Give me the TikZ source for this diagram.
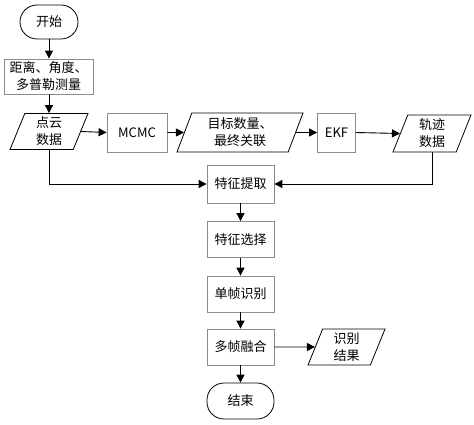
\documentclass[tikz,border=0pt]{standalone}
\usepackage{fontspec}
\setmainfont{Noto Sans CJK SC}
\usetikzlibrary{shapes.geometric,arrows.meta}
\definecolor{boxgray}{HTML}{8C8C8C}
\tikzset{
  base/.style={font=\fontsize{13pt}{17pt}\selectfont, align=center, inner sep=0pt, line width=0.8pt},
  proc/.style={base, draw=boxgray, rectangle},
  io/.style={base, draw=black, trapezium, trapezium left angle=63, trapezium right angle=117, trapezium stretches body},
  term/.style={base, draw=black, rectangle, rounded corners=17pt},
  arr/.style={line width=0.9pt, -{Triangle[length=8pt,width=8pt]}},
}
\begin{document}
\begin{tikzpicture}[x=1pt,y=-1pt]
\useasboundingbox (0,0) rectangle (474,425);
\node[term, minimum width=58pt, minimum height=34pt] (start) at (49,22) {开始};
\node[proc, minimum width=89pt, minimum height=35pt] (meas) at (48.5,76.5) {距离、角度、\\多普勒测量};
\node[io, minimum width=78pt, minimum height=36pt] (pc) at (49,131.5) {点云\\数据};
\node[proc, minimum width=60pt, minimum height=39pt] (mcmc) at (137,132.5) {MCMC};
\node[io, minimum width=126pt, minimum height=39pt] (tgt) at (240,132.5) {目标数量、\\最终关联};
\node[proc, minimum width=38pt, minimum height=39pt] (ekf) at (336.5,132.5) {EKF};
\node[io, minimum width=78pt, minimum height=37pt] (trk) at (432,133.5) {轨迹\\数据};
\node[proc, minimum width=67pt, minimum height=38pt] (fe) at (240.5,184) {特征提取};
\node[proc, minimum width=67pt, minimum height=36pt] (fs) at (240.5,239.5) {特征选择};
\node[proc, minimum width=67pt, minimum height=36pt] (sf) at (240.5,294) {单帧识别};
\node[proc, minimum width=67pt, minimum height=36pt] (mf) at (240.5,347) {多帧融合};
\node[term, minimum width=67pt, minimum height=36pt] (end) at (240.5,401) {结束};
\node[io, minimum width=77pt, minimum height=36pt] (res) at (346.5,347) {识别\\结果};
\draw[arr] (start.south) -- (start.south |- meas.north);
\draw[arr] (meas.south -| pc.south) -- (pc.north);
\draw[arr] (pc.east) -- (mcmc.west);
\draw[arr] (mcmc.east) -- (tgt.west);
\draw[arr] (tgt.east) -- (ekf.west);
\draw[arr] (ekf.east) -- (trk.west);
\draw[arr] (pc.south) |- (fe.west);
\draw[arr] (trk.south) |- (fe.east);
\draw[arr] (fe) -- (fs);
\draw[arr] (fs) -- (sf);
\draw[arr] (sf) -- (mf);
\draw[arr] (mf) -- (end);
\draw[arr] (mf) -- (res);
\end{tikzpicture}
\end{document}
